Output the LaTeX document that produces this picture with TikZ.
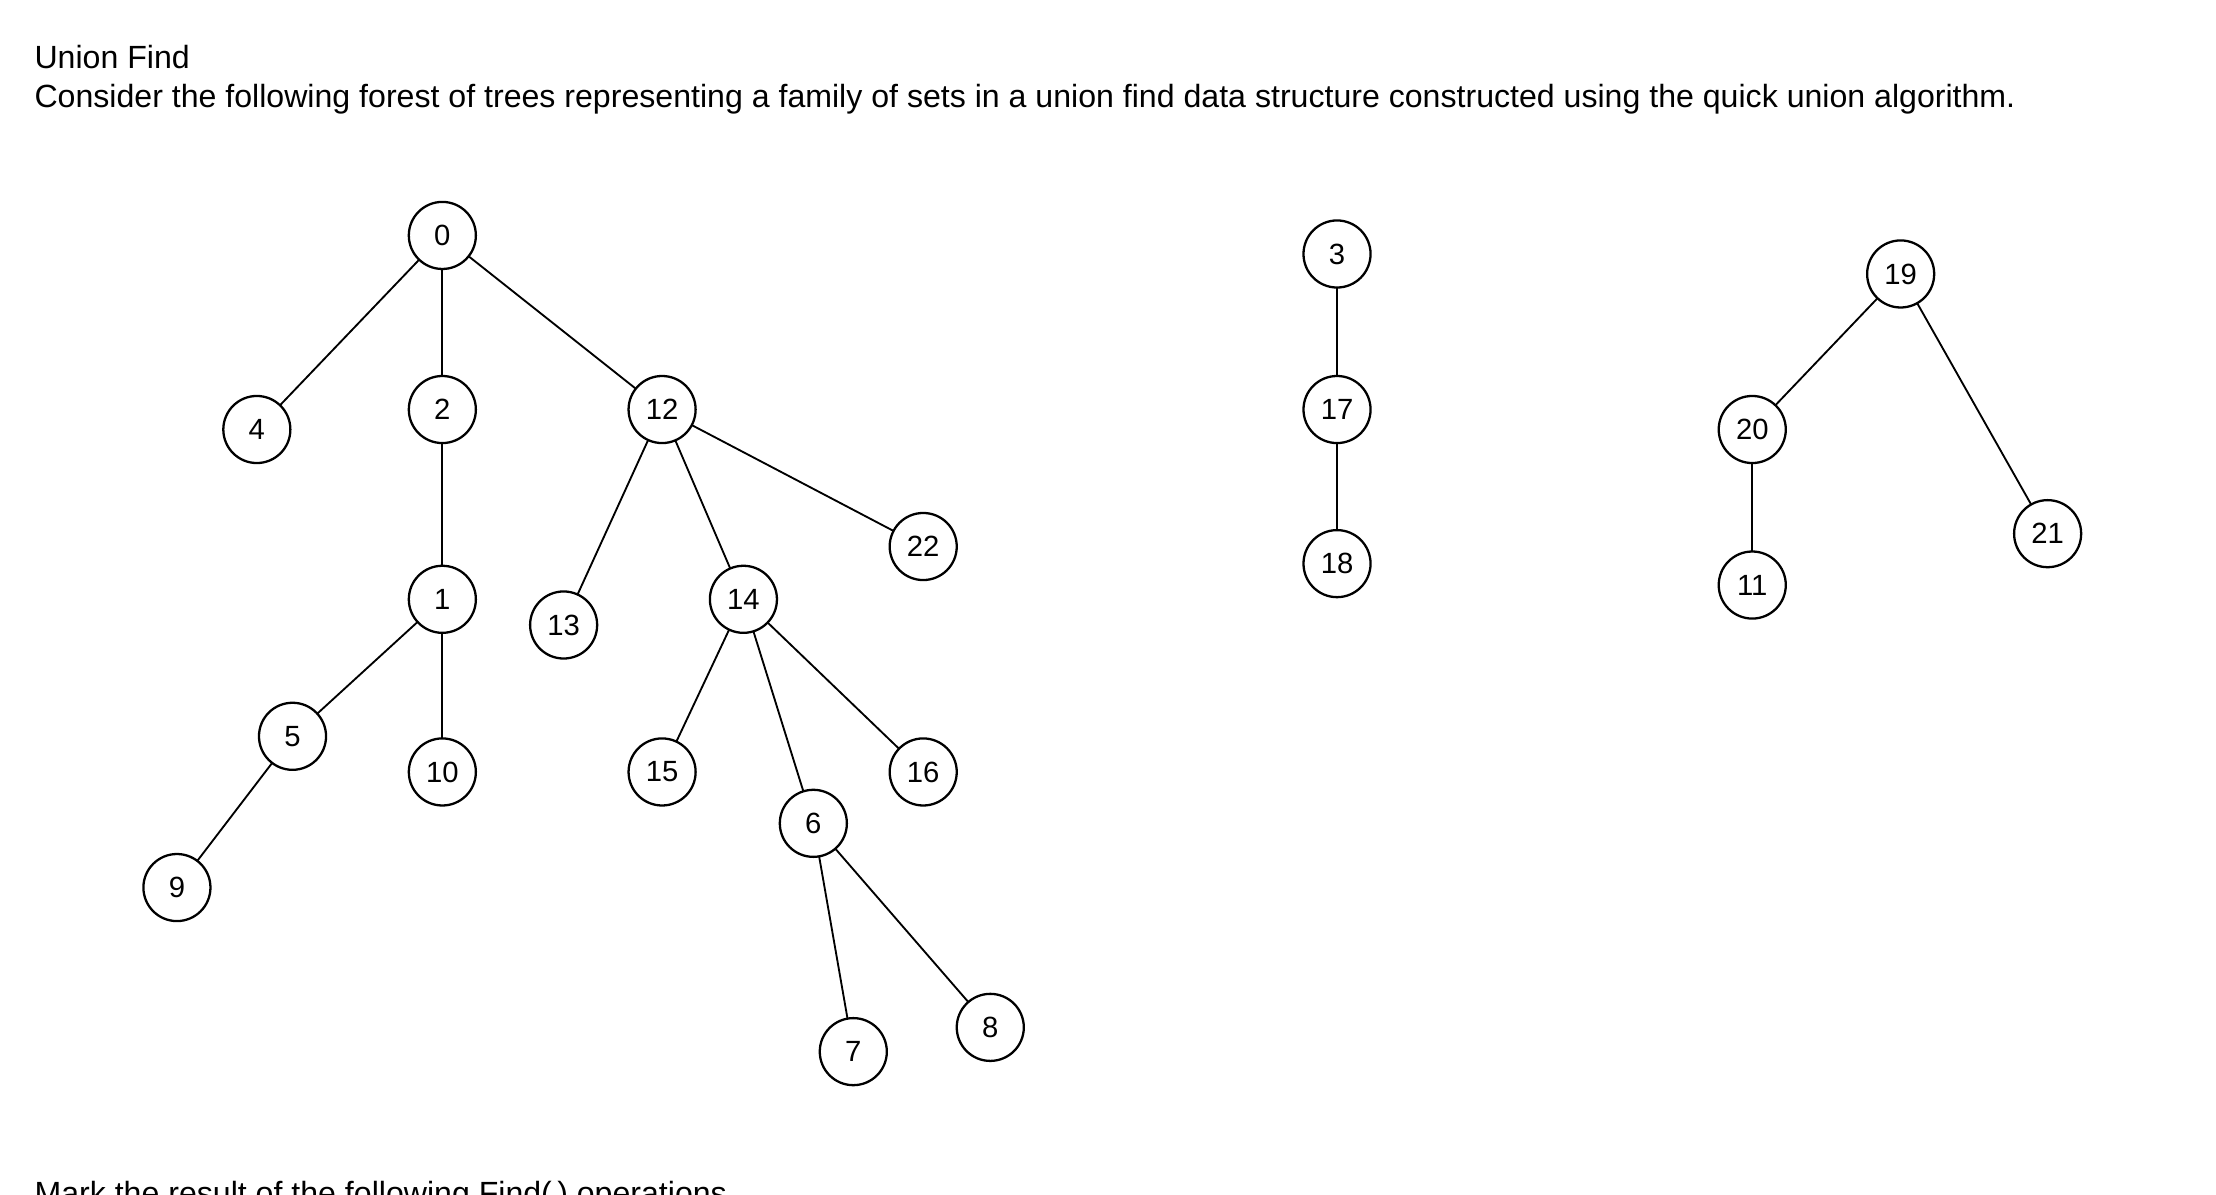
\documentclass[tikz,border=0pt]{standalone}
\usepackage{fontspec}
\setmainfont{Liberation Sans}
\begin{document}
\begin{tikzpicture}[x=1pt,y=-1pt,
  vert/.style={circle,draw,line width=1.6pt,minimum size=47pt,inner sep=0pt,font=\fontsize{20.5}{21}\selectfont,fill=white},
  edge/.style={line width=1.3pt},
  txt/.style={anchor=base west,inner sep=0pt,font=\fontsize{22.5}{23}\selectfont}]
\clip (0,0) rectangle (1553,837);
\fill[white] (0,0) rectangle (1553,837);
\node[txt] (t1) at (24,48) {Union Find};
\node[txt] (t2) at (24,75) {Consider the following forest of trees representing a family of sets in a union find data structure constructed using the quick union algorithm.};
\node[txt] (t3) at (24,844) {Mark the result of the following Find(\,) operations};
\foreach \n/\x/\y in {0/310/165,4/180/301,2/310/287,12/464/287,1/310/420,13/395/438,14/521/420,22/647/383,5/205/516,10/310/541,15/464/541,16/647/541,6/570/577,9/124/622,7/598/737,8/694/720,3/937/178,17/937/287,18/937/395,19/1332/192,20/1228/301,21/1435/374,11/1228/410}
  \coordinate (c\n) at (\x,\y);
\foreach \a/\b in {0/4,0/2,0/12,2/1,1/5,1/10,5/9,12/13,12/14,12/22,14/15,14/6,14/16,6/7,6/8,3/17,17/18,19/20,19/21,20/11}
  \draw[edge] (c\a) -- (c\b);
\foreach \n in {0,4,2,12,1,13,14,22,5,10,15,16,6,9,7,8,3,17,18,19,20,21,11}
  \node[vert] (n\n) at (c\n) {\n};
\end{tikzpicture}
\end{document}
